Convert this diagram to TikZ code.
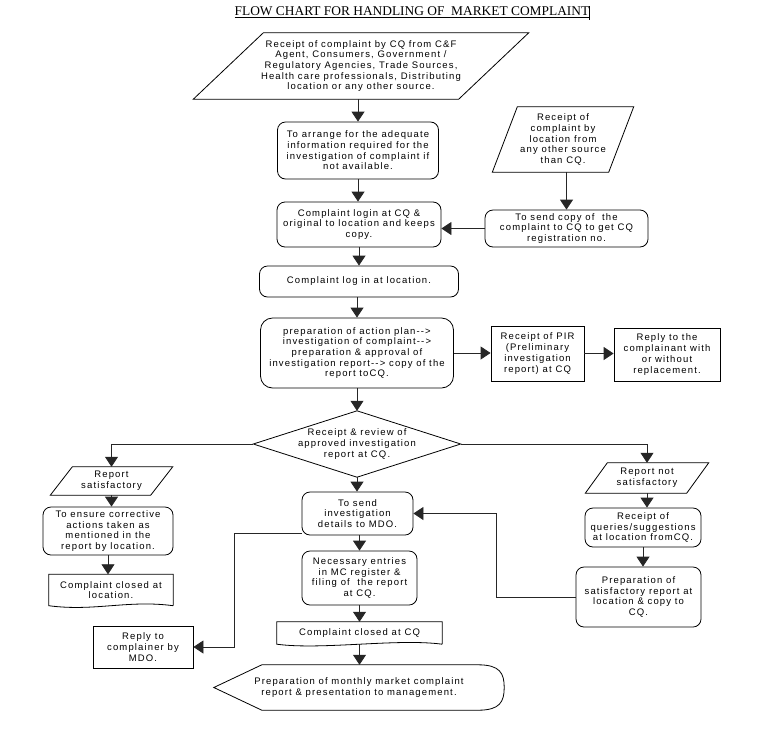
\documentclass[tikz,border=0pt]{standalone}
\usepackage{fontspec}
\setmainfont{Liberation Serif}
\newfontfamily\arialf{Liberation Sans}[LetterSpace=12]
\usetikzlibrary{arrows.meta,calc}
\newcommand\paragshape[2]{\draw[outl] ($(#1.north west)+(#2,0)$) -- ($(#1.north east)+(#2,0)$) -- ($(#1.south east)+(-#2,0)$) -- ($(#1.south west)+(-#2,0)$) -- cycle;}
\newcommand\docshape[2]{\draw[outl] (#1.south east) -- (#1.north east) -- (#1.north west) -- (#1.south west) .. controls +(45,#2) and +(-45,-#2) .. (#1.south east);}
\begin{document}
\begin{tikzpicture}[x=1pt,y=-1pt,
  txt/.style={font=\arialf\fontsize{9.5}{10.7}\selectfont, align=center, inner sep=0pt},
  rbox/.style={txt, draw, rounded corners=8pt, line width=0.8pt},
  sbox/.style={txt, draw, line width=0.8pt},
  outl/.style={draw, line width=0.8pt},
  arr/.style={-{Triangle[width=13pt,length=10pt]}, line width=0.8pt, black!85},
]
\useasboundingbox (0,0) rectangle (783,747);
% title
\node[font=\fontsize{13.4}{15}\selectfont, inner sep=0pt] (title) at (412,12) {\underline{FLOW CHART FOR HANDLING OF\ \ MARKET COMPLAINT}};
\draw[line width=0.8pt] (title.north east) -- ([yshift=-2pt]title.south east);

% nodes
\node[txt, minimum width=265pt, minimum height=66pt] (in1) at (361,66) {Receipt of complaint by CQ from C\&F\\ Agent, Consumers, Government /\\ Regulatory Agencies, Trade Sources,\\ Health care professionals, Distributing\\ location or any other source.};
\paragshape{in1}{35}
\node[rbox, minimum width=161pt, minimum height=57pt] (b2) at (358,150.5) {To arrange for the adequate\\ information required for the\\ investigation of complaint if\\ not available.};
\node[txt, minimum width=116pt, minimum height=65pt] (rp) at (563,139.5) {Receipt of\\ complaint by\\ location from\\ any other source\\ than CQ.};
\paragshape{rp}{12.5}
\node[rbox, minimum width=164pt, minimum height=45pt] (b3) at (359,224.5) {Complaint login at CQ \&\\ original to location and keeps\\ copy.};
\node[rbox, minimum width=163pt, minimum height=37pt] (tc) at (566.5,228.5) {To send copy of \ the\\ complaint to CQ to get CQ\\ registration no.};
\node[rbox, minimum width=199pt, minimum height=31pt] (b4) at (359,281.5) {Complaint log in at location.};
\node[rbox, rounded corners=12pt, minimum width=193pt, minimum height=70pt] (b5) at (357,353) {preparation of action plan-{}-{}>\\ investigation of complaint-{}-{}>\\ preparation \& approval of\\ investigation report-{}-{}> copy of the\\ report toCQ.};
\node[sbox, minimum width=93pt, minimum height=55pt] (pir) at (537.5,353.5) {Receipt of PIR\\ (Preliminary\\ investigation\\ report) at CQ};
\node[sbox, minimum width=106pt, minimum height=53pt] (rep) at (667,354.5) {Reply to the\\ complainant with\\ or without\\ replacement.};
\node[txt, minimum width=207pt, minimum height=66pt] (d) at (357,444) {Receipt \& review of\\ approved investigation\\ report at CQ.};
\draw[outl] (d.north) -- (d.east) -- (d.south) -- (d.west) -- cycle;
\node[txt, minimum width=100pt, minimum height=28pt] (rs) at (111.5,481) {Report\\ satisfactory};
\paragshape{rs}{11}
\node[rbox, minimum width=130pt, minimum height=48pt] (ens) at (108,531) {To ensure corrective\\ actions taken as\\ mentioned in the\\ report by location.};
\node[txt, minimum width=124pt, minimum height=31pt] (cl) at (111,590) {Complaint closed at\\ location.};
\docshape{cl}{6}
\node[rbox, minimum width=111pt, minimum height=43pt] (sm) at (357.5,513.5) {To send\\ investigation\\ details to MDO.};
\node[rbox, minimum width=115pt, minimum height=54pt] (ne) at (359.5,578) {Necessary entries\\ in MC register \&\\ filing of \ the report\\ at CQ.};
\node[txt, minimum width=165pt, minimum height=22pt] (cc) at (359.5,633) {Complaint closed at CQ};
\docshape{cc}{6}
\node[txt, minimum width=290pt, minimum height=45pt] (fin) at (359,687.5) {Preparation of monthly market complaint\\ report \& presentation to management.};
\draw[outl] (fin.west) -- ($(fin.north west)+(48,0)$) -- ($(fin.north east)+(-26,0)$) .. controls ($(fin.north east)+(-4,0)$) and ($(fin.east)+(0,-14)$) .. (fin.east) .. controls ($(fin.east)+(0,14)$) and ($(fin.south east)+(-4,0)$) .. ($(fin.south east)+(-26,0)$) -- ($(fin.south west)+(48,0)$) -- cycle;
\node[sbox, minimum width=100pt, minimum height=42pt] (rpl) at (143,647) {Reply to\\ complainer by\\ MDO.};
\node[txt, minimum width=101pt, minimum height=30pt] (rns) at (647,478) {Report not\\ satisfactory};
\paragshape{rns}{11}
\node[rbox, minimum width=116pt, minimum height=39pt] (q) at (643,527.5) {Receipt of\\ queries/suggestions\\ at location fromCQ.};
\node[rbox, minimum width=125pt, minimum height=60pt] (ps) at (638.5,597) {Preparation of\\ satisfactory report at\\ location \& copy to\\ CQ.};

% connectors
\draw[arr] (in1.south -| b2.north) -- (b2.north);
\draw[arr] (b2.south) -- (b2.south |- b3.north);
\draw[arr] (tc.north |- rp.south) -- (tc.north);
\draw[arr] (tc.west) -- (tc.west -| b3.east);
\draw[arr] (b3.south) -- (b3.south |- b4.north);
\draw[arr] (b4.south -| b5.north) -- (b5.north);
\draw[arr] (b5.east) -- (b5.east -| pir.west);
\draw[arr] (pir.east) -- (pir.east -| rep.west);
\draw[arr] (b5.south) -- (d.north);
\draw[arr] (d.west) -| (rs.north);
\draw[arr] (rs.south) -- (rs.south |- ens.north);
\draw[arr] (ens.south) -- (ens.south |- cl.north);
\draw[arr] (d.south) -- (d.south |- sm.north);
\draw[arr] (sm.south -| ne.north) -- (ne.north);
\draw[arr] (ne.south) -- (cc.north);
\draw[arr] (cc.south) -- (cc.south |- fin.north);
\draw[arr] ([yshift=2pt]sm.south west) -- ++(-67,0) |- (rpl.east);
\draw[arr] (d.east) -| (rns.north);
\draw[arr] (rns.south) -- (rns.south |- q.north);
\draw[arr] (q.south) -- (q.south |- ps.north);
\draw[arr] (ps.west) -- ++(-79,0) |- (sm.east);
\end{tikzpicture}
\end{document}
